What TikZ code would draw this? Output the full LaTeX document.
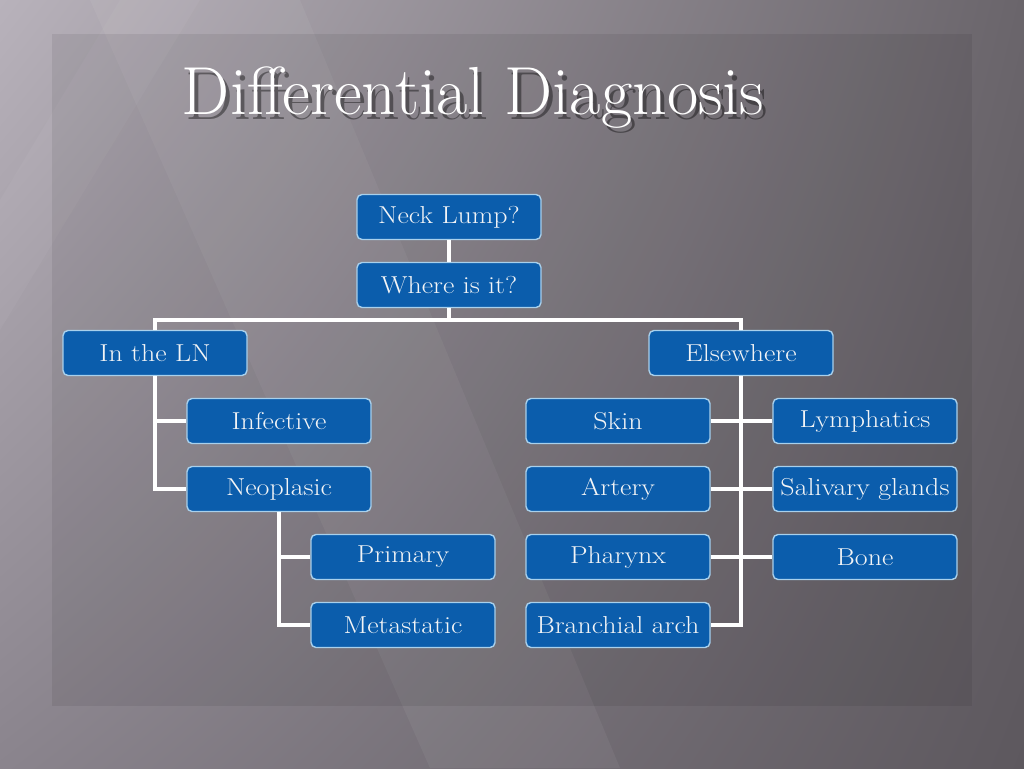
\documentclass[tikz,border=0pt]{standalone}
\usepackage{fontspec}
\usetikzlibrary{shadings}
\definecolor{bgUL}{HTML}{B8B2BB}
\definecolor{bgUR}{HTML}{6A656B}
\definecolor{bgLL}{HTML}{8A848D}
\definecolor{bgLR}{HTML}{5D585E}
\definecolor{boxblue}{HTML}{0B5DAC}
\definecolor{boxborder}{HTML}{A8D0EC}
\definecolor{boxtext}{HTML}{F2F4F6}
\newcommand{\wide}[1]{\scalebox{1.14}[1]{#1}}
\tikzset{
  box/.style={draw=boxborder, line width=1.4pt, fill=boxblue, rounded corners=5pt,
    minimum width=184pt, minimum height=45pt, inner sep=0pt, text=boxtext,
    font=\fontsize{24.5}{26}\selectfont\addfontfeatures{FakeBold=0.7}},
  link/.style={draw=white, line width=3.6pt},
  titletext/.style={font=\fontsize{68}{70}\selectfont\addfontfeatures{FakeBold=1}},
}
\begin{document}
\begin{tikzpicture}[x=1pt,y=-1pt]
\useasboundingbox (0,0) rectangle (1024,768);
% background
\shade[upper left=bgUL, upper right=bgUR, lower left=bgLL, lower right=bgLR] (0,0) rectangle (1024,768);
\fill[white, opacity=0.05] (90,0) -- (300,0) -- (620,768) -- (430,768) -- cycle;
\fill[white, opacity=0.04] (0,200) -- (120,0) -- (200,0) -- (0,330) -- cycle;
% inner panel
\fill[black, opacity=0.07] (52,34) rectangle (972,706);
% title with shadow
\node[titletext, text=black, opacity=0.4] (titleshadow) at (477,103) {Differential Diagnosis};
\node[titletext, text=white] (title) at (473,98) {Differential Diagnosis};
% nodes
\node[box] (neck) at (449,217) {\wide{Neck Lump?}};
\node[box] (where) at (449,285) {\wide{Where is it?}};
\node[box] (ln) at (155,353) {\wide{In the LN}};
\node[box] (else) at (741,353) {\wide{Elsewhere}};
\node[box] (inf) at (279,421) {\wide{Infective}};
\node[box] (neo) at (279,489) {\wide{Neoplasic}};
\node[box] (prim) at (403,557) {\wide{Primary}};
\node[box] (meta) at (403,625) {\wide{Metastatic}};
\node[box] (skin) at (618,421) {\wide{Skin}};
\node[box] (art) at (618,489) {\wide{Artery}};
\node[box] (phar) at (618,557) {\wide{Pharynx}};
\node[box] (bran) at (618,625) {\wide{Branchial arch}};
\node[box] (lymph) at (865,421) {\wide{Lymphatics}};
\node[box] (sal) at (865,489) {\wide{Salivary glands}};
\node[box] (bone) at (865,557) {\wide{Bone}};
% connectors
\coordinate (bus) at (449,320);
\path[link] (neck.south) -- (where.north);
\path[link] (where.south) -- (bus);
\path[link] (ln.north) |- (bus) -| (else.north);
\path[link] (ln.south) |- (inf.west);
\path[link] (ln.south) |- (neo.west);
\path[link] (neo.south) |- (prim.west);
\path[link] (neo.south) |- (meta.west);
\path[link] (else.south) |- (bran.east);
\path[link] (skin.east) -- (lymph.west);
\path[link] (art.east) -- (sal.west);
\path[link] (phar.east) -- (bone.west);
\end{tikzpicture}
\end{document}
